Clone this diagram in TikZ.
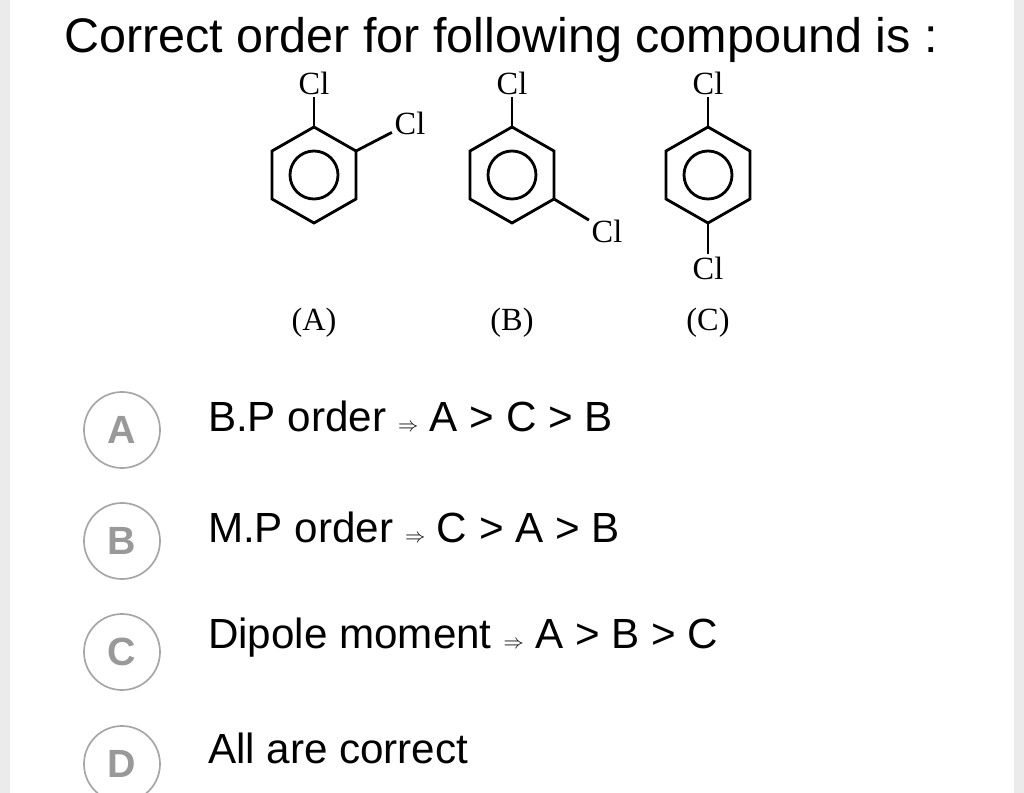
\documentclass[tikz,border=0pt]{standalone}
\usepackage{fontspec}
\setmainfont{Liberation Sans}
\newfontfamily\chemfont{Liberation Serif}
\newcommand{\implarrow}{{\fontsize{15}{15}\selectfont$\Rightarrow$}}
\begin{document}
\begin{tikzpicture}[x=0.025cm, y=-0.025cm, line width=2pt,
  atom/.style={font=\chemfont\fontsize{23}{23}\selectfont, inner sep=1pt},
  opt/.style={circle, draw=black!35, line width=1.2pt, minimum size=1.9cm, text=black!40, font=\bfseries\fontsize{28}{28}\selectfont},
  answer/.style={anchor=west, font=\fontsize{30}{30}\selectfont}]
\useasboundingbox (0,0) rectangle (1024,793);
\fill[black!8] (0,0) rectangle (10,793);
\fill[black!8] (1014,0) rectangle (1024,793);
% title
\node[anchor=west, font=\fontsize{34.5}{34.5}\selectfont] (title) at (58,40) {Correct order for following compound is :};
% rings
\foreach \name/\cx in {ringA/314, ringB/512, ringC/708} {
  \draw (\cx,127) -- ++(42,24) -- ++(0,48) -- ++(-42,24) -- ++(-42,-24) -- ++(0,-48) -- cycle;
  \draw (\cx,175) circle (24);
  \coordinate (\name) at (\cx,175);
}
% substituents
\node[atom] (clA1) at (314,83) {Cl};
\node[atom] (clA2) at (410,123) {Cl};
\draw (314,127) -- (clA1);
\draw (356,151) -- (clA2);
\node[atom] (clB1) at (512,83) {Cl};
\node[atom] (clB2) at (607,231) {Cl};
\draw (512,127) -- (clB1);
\draw (554,199) -- (clB2);
\node[atom] (clC1) at (708,83) {Cl};
\node[atom] (clC2) at (708,268) {Cl};
\draw (708,127) -- (clC1);
\draw (708,223) -- (clC2);
% labels
\node[atom] (labA) at (314,323) {(A)};
\node[atom] (labB) at (512,323) {(B)};
\node[atom] (labC) at (708,323) {(C)};
% options
\node[opt] (optA) at (122,430) {A};
\node[opt] (optB) at (122,541) {B};
\node[opt] (optC) at (122,652) {C};
\node[opt] (optD) at (122,764) {D};
\node[answer] (ansA) at (202,416) {B.P order \implarrow\ A > C > B};
\node[answer] (ansB) at (202,527) {M.P order \implarrow\ C > A > B};
\node[answer] (ansC) at (202,638) {Dipole moment \implarrow\ A > B > C};
\node[answer] (ansD) at (202,748) {All are correct};
\end{tikzpicture}
\end{document}
